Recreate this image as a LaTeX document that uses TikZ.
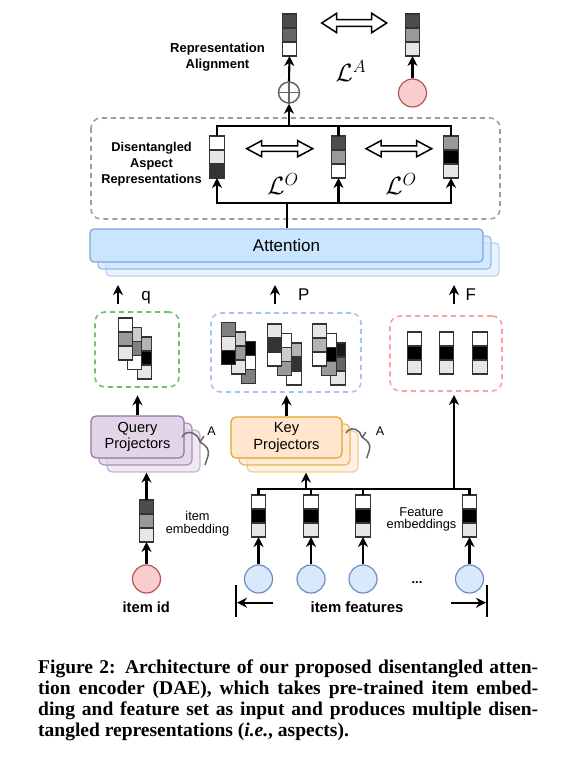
\RequirePackage{fix-cm}
\documentclass[tikz,border=0pt]{standalone}
\usepackage{fontspec}
\setmainfont{Liberation Serif}
\setsansfont{Liberation Sans}
\usetikzlibrary{arrows.meta,calc}
\definecolor{g1}{HTML}{E6E6E6}
\definecolor{g2}{HTML}{CCCCCC}
\definecolor{g3}{HTML}{B3B3B3}
\definecolor{g4}{HTML}{999999}
\definecolor{g5}{HTML}{808080}
\definecolor{g6}{HTML}{666666}
\definecolor{g7}{HTML}{4D4D4D}
\definecolor{g8}{HTML}{333333}
\definecolor{g9}{HTML}{1A1A1A}
\definecolor{attfill}{HTML}{CCE5FF}
\definecolor{attline}{HTML}{7EA6E0}
\definecolor{qfill}{HTML}{E1D5E7}
\definecolor{qline}{HTML}{9673A6}
\definecolor{kfill}{HTML}{FFE6CC}
\definecolor{kline}{HTML}{DFA52A}
\definecolor{pfill}{HTML}{F8CECC}
\definecolor{pline}{HTML}{B85450}
\definecolor{bfill}{HTML}{DAE8FC}
\definecolor{bline}{HTML}{6C8EBF}
\definecolor{gdash}{HTML}{6DC46D}
\definecolor{bdash}{HTML}{A9C4EB}
\definecolor{rdash}{HTML}{FF9E9E}
\definecolor{graydash}{HTML}{9E9E9E}
\newcommand{\myvec}[6]{%
  \node[cell,fill=#4,anchor=north] (#1a) at (#2,#3) {};
  \node[cell,fill=#5,anchor=north] (#1b) at (#1a.south) {};
  \node[cell,fill=#6,anchor=north] (#1c) at (#1b.south) {};
}
\newcommand{\openarr}[6]{%
  \draw[line width=1.5pt, fill=white, line join=miter] (#1,#3) -- ({#1+#4},{#3-#5}) -- ({#1+#4},{#3-#6}) -- ({#2-#4},{#3-#6}) -- ({#2-#4},{#3-#5}) -- (#2,#3) -- ({#2-#4},{#3+#5}) -- ({#2-#4},{#3+#6}) -- ({#1+#4},{#3+#6}) -- ({#1+#4},{#3+#5}) -- cycle;
}
\newcommand{\squig}[3]{%
  \begin{scope}[shift={(#1,#2)}, scale=#3]
    \draw[squigline] (0,0) .. controls (3,-6) and (10,-6) .. (15,-1) .. controls (16.5,1) .. (18,5);
    \draw[squigline] (18,5) -- (22,-1);
    \draw[squigline] (18,5) .. controls (24,8) and (28,13) .. (26,19) .. controls (25,23) .. (23,28);
  \end{scope}
}
\begin{document}
\begin{tikzpicture}[x=1pt,y=-1pt,
  cell/.style={draw=black!80, line width=1.4pt, minimum width=14.5pt, minimum height=14pt, inner sep=0pt, outer sep=0pt},
  ln/.style={line width=2.1pt},
  conn/.style={line width=2.1pt, -{Stealth[length=10pt,width=10pt,inset=3.2pt]}},
  blbl/.style={font=\sffamily\bfseries\fontsize{13}{15.6}\selectfont, align=center, inner sep=0pt},
  rlbl/.style={font=\sffamily\fontsize{12.8}{13.6}\selectfont, align=center, inner sep=0pt},
  letter/.style={font=\sffamily\fontsize{17}{17}\selectfont, inner sep=0pt, anchor=base},
  loss/.style={font=\fontsize{25}{25}\selectfont, inner sep=0pt},
  att/.style={draw=attline, fill=attfill, line width=1.3pt, rounded corners=4pt, minimum width=393pt, minimum height=33pt, inner sep=0pt},
  qproj/.style={draw=qline, fill=qfill, line width=1.2pt, rounded corners=5pt, minimum width=93pt, minimum height=42pt, inner sep=0pt, align=center, font=\sffamily\fontsize{14.6}{16.6}\selectfont},
  kproj/.style={draw=kline, fill=kfill, line width=1.2pt, rounded corners=5pt, minimum width=111pt, minimum height=41pt, inner sep=0pt, align=center, font=\sffamily\fontsize{14.7}{16.6}\selectfont},
  dbox/.style={line width=1.6pt, dash pattern=on 5pt off 4pt, rounded corners=10pt, inner sep=0pt},
  squigline/.style={draw=g6, line width=1.5pt},
  circ/.style={circle, line width=1.2pt, minimum size=28pt, inner sep=0pt}
]
\useasboundingbox (0,0) rectangle (584,759);

% ---------- top: representation alignment ----------
\myvec{ra}{289.5}{14}{g7}{g6}{white}
\myvec{rb}{412.5}{14}{g7}{g4}{g1}
\openarr{321.7}{386.7}{23}{15}{9.7}{3.3}
\node[blbl] (ralbl) at (217.5,57) {Representation\\Alignment};
\node[loss] (la) at (351,71) {$\mathcal{L}^A$};
\node[circle, draw=g6, line width=1.5pt, minimum size=21pt, inner sep=0pt] (oplus) at (289,92.5) {};
\draw[draw=g6, line width=1.5pt] (oplus.north) -- (oplus.south) (oplus.west) -- (oplus.east);
\node[circ, draw=pline, fill=pfill] (pid) at (412.5,93) {};
\draw[conn] (oplus.north) -- (rac.south);
\draw[conn] (pid.north) -- (rbc.south);

% ---------- disentangled aspect representations ----------
\draw[dbox, draw=graydash] (91,118) rectangle (500,219);
\myvec{da}{217}{136}{white}{g1}{g8}
\myvec{db}{338.5}{136}{g7}{g4}{white}
\myvec{dc}{451}{136}{g4}{black}{g1}
\coordinate (jt) at (289,126);
\draw[ln] (daa.north) |- (jt) -| (dca.north);
\draw[ln] (dba.north) -- (dba.north |- jt);
\draw[conn] (jt) -- (oplus.south);
\openarr{246.7}{312.7}{148.7}{15}{8}{2.8}
\openarr{366}{431.7}{148.7}{15}{8}{2.8}
\node[loss] (lo1) at (283,184) {$\mathcal{L}^O$};
\node[loss] (lo2) at (401,184) {$\mathcal{L}^O$};
\node[blbl, font=\sffamily\bfseries\fontsize{12.8}{15.8}\selectfont] (dalbl) at (151.5,164.2) {Disentangled\\Aspect\\Representations};

% ---------- attention ----------
\node[att, opacity=0.45] (att3) at (302.5,259.5) {};
\node[att, opacity=0.7] (att2) at (294.5,252.5) {};
\node[att, font=\sffamily\fontsize{17}{17}\selectfont] (att) at (286.5,245.5) {Attention};
\coordinate (jb) at (287,203);
\draw[ln] (att.north -| jb) -- (jb);
\draw[conn] (jb) -| (dac.south);
\draw[conn] (jb) -| (dcc.south);
\draw[conn] (dbc.south |- jb) -- (dbc.south);

% ---------- q, P, F arrows ----------
\coordinate (qs) at (118,304); \coordinate (qe) at (118,285);
\coordinate (ps) at (275,304); \coordinate (pe) at (275,285);
\coordinate (fs) at (454,304); \coordinate (fe) at (454,285);
\draw[conn] (qs) -- (qe);
\draw[conn] (ps) -- (pe);
\draw[conn] (fs) -- (fe);
\node[letter] (ql) at (146,300) {q};
\node[letter] (pl) at (303.7,300) {P};
\node[letter] (fl) at (470.8,300) {F};

% ---------- q box ----------
\node[dbox, draw=gdash, minimum width=84pt, minimum height=75pt] (qbox) at (137,349.5) {};
\myvec{q3}{144.5}{337}{g3}{black}{g1}
\myvec{q2}{134.5}{327.5}{g2}{g5}{white}
\myvec{q1}{125.5}{318}{white}{g4}{g1}

% ---------- P box ----------
\node[dbox, draw=bdash, minimum width=150pt, minimum height=79pt] (pbox) at (286,352.5) {};
\myvec{pa3}{248.5}{341.5}{black}{white}{g5}
\myvec{pa2}{238.5}{332}{g2}{g4}{g1}
\myvec{pa1}{228.5}{322.5}{g5}{g1}{black}
\myvec{pb3}{294}{343}{g3}{g8}{white}
\myvec{pb2}{284.5}{333.5}{white}{g2}{g4}
\myvec{pb1}{274.5}{324}{g1}{g8}{white}
\myvec{pc3}{338}{343}{g9}{g6}{g1}
\myvec{pc2}{329}{333.5}{white}{black}{g4}
\myvec{pc1}{319.5}{324}{g1}{g3}{white}

% ---------- F box ----------
\node[dbox, draw=rdash, minimum width=112pt, minimum height=75pt] (fbox) at (446,353.5) {};
\myvec{f1}{414.5}{332}{white}{black}{g1}
\myvec{f2}{446.5}{332}{white}{black}{g1}
\myvec{f3}{480}{332}{white}{black}{g1}

% ---------- projectors ----------
\node[qproj, opacity=0.5] (qp3) at (153.5,451) {};
\node[qproj, opacity=0.75] (qp2) at (145.5,444) {};
\node[qproj] (qp) at (137.5,437) {Query\\Projectors};
\node[kproj, opacity=0.5] (kp3) at (302.5,451.5) {};
\node[kproj, opacity=0.75] (kp2) at (294.5,444.5) {};
\node[kproj] (kp) at (286.5,437.5) {Key\\Projectors};
\draw[conn] (qp.north) -- ++(0,-20);
\draw[conn] (kp.north) -- ++(0,-21);
\squig{182}{437}{1}
\squig{346}{433}{0.9}
\node[font=\sffamily\fontsize{12.5}{12.5}\selectfont, anchor=base, inner sep=0pt] (aq) at (211.5,435) {A};
\node[font=\sffamily\fontsize{12.5}{12.5}\selectfont, anchor=base, inner sep=0pt] (ak) at (380,435) {A};

% ---------- item embedding ----------
\myvec{ie}{146.5}{500}{g7}{g4}{g1}
\node[circ, draw=pline, fill=pfill] (iid) at (146.5,579) {};
\draw[conn] (iid.north) -- (iec.south);
\draw[conn] (iea.north) -- (iea.north |- qp3.south);
\node[rlbl] (ielbl) at (197.5,523.5) {item\\embedding};
\node[blbl, font=\sffamily\bfseries\fontsize{14.7}{15}\selectfont, anchor=base] (iidlbl) at (146.3,612.7) {item id};

% ---------- feature embeddings ----------
\myvec{fa}{258.5}{495}{white}{black}{g1}
\myvec{fb}{311}{495}{white}{black}{g1}
\myvec{fc}{363}{495}{white}{black}{g1}
\myvec{fd}{469.5}{495}{white}{black}{g1}
\node[circ, draw=bline, fill=bfill] (ca) at (258.5,579) {};
\node[circ, draw=bline, fill=bfill] (cb) at (311,579) {};
\node[circ, draw=bline, fill=bfill] (cc) at (363,579) {};
\node[circ, draw=bline, fill=bfill] (cd) at (469.5,579) {};
\draw[conn] (ca.north) -- (fac.south);
\draw[conn] (cb.north) -- (fbc.south);
\draw[conn] (cc.north) -- (fcc.south);
\draw[conn] (cd.north) -- (fdc.south);
\coordinate (ftr) at (469.5,489);
\draw[ln] (faa.north) |- (ftr) -- (fda.north);
\draw[ln] (fba.north) -- (fba.north |- ftr);
\draw[ln] (fca.north) -- (fca.north |- ftr);
\coordinate (kj) at (306,489);
\coordinate (fj) at (454,489);
\coordinate (fjend) at (454,395);
\draw[conn] (kj) -- (kj |- kp3.south);
\draw[conn] (fj) -- (fjend);
\node[rlbl, font=\sffamily\fontsize{12.8}{12.6}\selectfont] (felbl) at (421.5,519.5) {Feature\\embeddings};
\node[font=\sffamily\bfseries\fontsize{13}{13}\selectfont, anchor=base, inner sep=0pt] (dots) at (417,583) {...};

% ---------- item features bracket ----------
\coordinate (lb1) at (236,585); \coordinate (lb2) at (236,617);
\coordinate (rb1) at (487,585); \coordinate (rb2) at (487,617);
\draw[ln] (lb1) -- (lb2);
\draw[ln] (rb1) -- (rb2);
\coordinate (la1) at (273,602.7); \coordinate (la2) at (237,602.7);
\coordinate (ra1) at (451,602.7); \coordinate (ra2) at (486,602.7);
\draw[conn] (la1) -- (la2);
\draw[conn] (ra1) -- (ra2);
\node[blbl, font=\sffamily\bfseries\fontsize{14.9}{15}\selectfont, anchor=base] (iflbl) at (357,612.7) {item features};

% ---------- caption ----------
\node[anchor=north west, inner sep=0pt, text width=500pt, align=justify,
      font=\bfseries\fontsize{19.5}{20.7}\selectfont] (cap) at (38,660)
  {Figure 2: Architecture of our proposed disentangled atten-\linebreak tion encoder (DAE), which takes pre-trained item embed-\linebreak ding and feature set as input and produces multiple disen-\linebreak tangled representations (\textit{i.e.}, aspects).};
\end{tikzpicture}
\end{document}
